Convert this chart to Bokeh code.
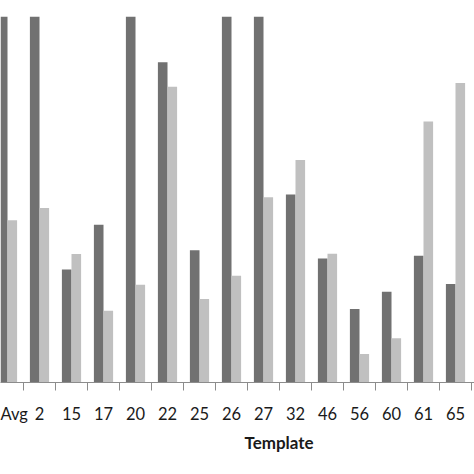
from bokeh.plotting import figure
from bokeh.models import ColumnDataSource, Range1d, FixedTicker, Title
from bokeh.transform import dodge
from bokeh.embed import file_html
from bokeh.resources import INLINE

# Data (units: visible axis height = 100)
templates = ["Avg", "2", "15", "17", "20", "22", "25", "26", "27", "32", "46", "56", "60", "61", "65"]
series_dark = [110, 110, 30.9, 43.1, 110, 87.5, 36.1, 110, 110, 51.4, 33.9, 20.1, 24.8, 34.6, 26.9]
series_light = [44.3, 47.7, 35.1, 19.6, 26.7, 80.8, 22.8, 29.2, 50.6, 60.8, 35.2, 7.8, 12.1, 71.3, 81.8]

idx = list(range(len(templates)))
source = ColumnDataSource(data=dict(x=idx, dark=series_dark, light=series_light))

p = figure(width=474, height=474, output_backend="svg", toolbar_location=None,
           x_range=Range1d(-0.21875, 14.59375), y_range=Range1d(0, 100),
           min_border_left=0, min_border_right=0, min_border_top=16, min_border_bottom=92,
           y_axis_location=None)

p.vbar(x=dodge("x", -0.15, range=p.x_range), top="dark", width=0.3, source=source,
       fill_color="#717171", line_color=None)
p.vbar(x=dodge("x", 0.15, range=p.x_range), top="light", width=0.3, source=source,
       fill_color="#c0c0c0", line_color=None)

p.xgrid.visible = False
p.ygrid.visible = False
p.outline_line_color = None

ax = p.xaxis[0]
ax.ticker = FixedTicker(ticks=idx, minor_ticks=[i + 0.5 for i in range(-1, len(templates))])
ax.major_label_overrides = {i: t for i, t in enumerate(templates)}
ax.major_tick_line_color = None
ax.major_tick_in = 0
ax.major_tick_out = 0
ax.minor_tick_in = 0
ax.minor_tick_out = 8
ax.minor_tick_line_color = "#8c8c8c"
ax.axis_line_color = "#8c8c8c"
ax.major_label_standoff = 13
ax.major_label_text_font = "Lato"
ax.major_label_text_font_size = "16.5px"
ax.major_label_text_color = "#1a1a1a"

title = Title(text="Template", align="left", offset=244, standoff=6,
              text_font="Lato", text_font_style="bold", text_font_size="17px",
              text_color="#1a1a1a")
p.add_layout(title, "below")

open("out.html", "w").write(file_html(p, INLINE))
